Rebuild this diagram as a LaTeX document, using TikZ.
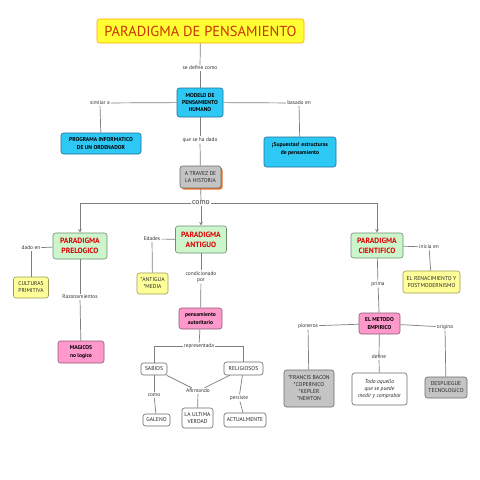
\documentclass[tikz,border=0pt]{standalone}
\usepackage{fontspec}
\setmainfont{PT Sans}
\usepackage{tikz}
\usetikzlibrary{positioning}
\usetikzlibrary{shadows}
\definecolor{linegray}{HTML}{7F7F7F}
\definecolor{lbltext}{HTML}{333333}
\definecolor{titlefill}{HTML}{FFFF33}
\definecolor{titledraw}{HTML}{FFA500}
\definecolor{titletext}{HTML}{CC3300}
\definecolor{bluefill}{HTML}{2EC8F5}
\definecolor{bluedraw}{HTML}{1F6F99}
\definecolor{greenfill}{HTML}{CCF5CC}
\definecolor{greendraw}{HTML}{6E8F6E}
\definecolor{greentext}{HTML}{DD0000}
\definecolor{yellowfill}{HTML}{FFFF99}
\definecolor{yellowdraw}{HTML}{9A9A50}
\definecolor{pinkfill}{HTML}{FF99CC}
\definecolor{pinkdraw}{HTML}{8A5A74}
\definecolor{grayfill}{HTML}{C4C4C4}
\definecolor{graydraw}{HTML}{6A6A6A}
\definecolor{travezshadow}{HTML}{F07020}
\tikzset{%
  link/.style = {draw=linegray,line width=0.7pt},
  linkarrow/.style = {-stealth,draw=linegray,line width=0.7pt},
  lbl/.style = {inner sep=1pt,align=center,text=lbltext,
        font=\fontsize{5.4}{6.6}\selectfont},
  b/.style = {rectangle,rounded corners=2.5pt,draw,line width=0.6pt,
        inner sep=1pt,align=center,font=\fontsize{5.6}{7}\selectfont},
  bb/.style = {b,font=\fontsize{5.6}{7.3}\bfseries\selectfont},
  titlebox/.style = {b,fill=titlefill,draw=titledraw,text=titletext,
        font=\fontsize{14.5}{16}\selectfont},
  bluebox/.style = {bb,fill=bluefill,draw=bluedraw,text=black},
  greenbox/.style = {b,fill=greenfill,draw=greendraw,text=greentext,
        font=\fontsize{7.6}{9.8}\bfseries\selectfont},
  yellowbox/.style = {b,fill=yellowfill,draw=yellowdraw,text=black!85},
  pinkbox/.style = {bb,fill=pinkfill,draw=pinkdraw,text=black},
  graybox/.style = {b,fill=grayfill,draw=graydraw,text=black!85},
  whitebox/.style = {b,fill=white,draw=graydraw,text=black!85}
}
\begin{document}
\begin{tikzpicture}[x=1pt,y=-1pt]
                            \useasboundingbox[fill=white] (0,0) rectangle (480,480);
                            \node[titlebox, minimum width=207pt, minimum height=24pt] (titulo) at (200.5,31) {PARADIGMA DE PENSAMIENTO};
                            \node[lbl] (sedef) at (200,68) {se define como};
                            \node[bluebox, minimum width=46pt, minimum height=29pt] (modelo) at (200,102.5) {MODELO DE\\PENSAMIENTO\\HUMANO};
                            \node[lbl] (similar) at (100,103) {similar a};
                            \node[bluebox, minimum width=80pt, minimum height=21pt] (programa) at (101,143.5) {PROGRAMA INFORMATICO\\DE UN ORDENADOR};
                            \node[lbl] (basado) at (299,103) {basado en};
                            \node[bluebox, minimum width=72pt, minimum height=30pt] (supuestas) at (300,152) {¡Supuestas! estructuras\\de pensamiento\\\mbox{}};
                            \node[lbl] (quese) at (200,140) {que se ha dado};
                            \node[graybox, drop shadow={fill=travezshadow,opacity=1,shadow xshift=1.5pt,shadow yshift=-1.5pt}, minimum width=41pt, minimum height=22pt] (travez) at (200.5,177) {A TRAVEZ DE\\LA HISTORIA};
                            \node[lbl, font=\fontsize{7.6}{9}\selectfont] (como) at (201,203) {como};

                            \node[greenbox, minimum width=54pt, minimum height=26pt] (prelog) at (80,246) {PARADIGMA\\PRELOGICO};
                            \node[lbl] (dado) at (31,248) {dado en};
                            \node[yellowbox, minimum width=35pt, minimum height=21pt] (culturas) at (31,287.5) {CULTURAS\\PRIMITIVA};
                            \node[lbl] (razon) at (80,297) {Razonamientos};
                            \node[pinkbox, minimum width=46pt, minimum height=22pt] (magicos) at (81,352) {MAGICOS\\no logico};

                            \node[greenbox, minimum width=51pt, minimum height=27pt] (antiguo) at (201,239.5) {PARADIGMA\\ANTIGUO};
                            \node[lbl] (edades) at (152,239) {Edades};
                            \node[yellowbox, minimum width=31pt, minimum height=21pt] (antigua) at (152.5,283.5) {*ANTIGUA\\*MEDIA};
                            \node[lbl] (cond) at (201,277) {condicionado\\por};
                            \node[pinkbox, minimum width=43pt, minimum height=21pt] (autor) at (200.5,318.5) {pensamiento\\autoritario};
                            \node[lbl] (repr) at (199,346) {representada};
                            \node[whitebox, minimum width=26pt, minimum height=12pt] (sabios) at (154,369) {SABIOS};
                            \node[whitebox, minimum width=39pt, minimum height=13pt] (relig) at (243.5,368.5) {RELIGIOSOS};
                            \node[lbl] (afirm) at (198,391) {Afirmando};
                            \node[lbl] (como2) [below=17pt of sabios] {como};
                            \node[whitebox, minimum width=27pt, minimum height=12pt] (galeno) at (156.5,420) {GALENO};
                            \node[whitebox, minimum width=31pt, minimum height=20pt] (verdad) at (197.5,418) {LA ULTIMA\\VERDAD};
                            \node[lbl] (persiste) at (239,398) {persiste};
                            \node[whitebox, minimum width=42pt, minimum height=14pt] (actual) at (245,420) {ACTUALMENTE};

                            \node[greenbox, minimum width=52pt, minimum height=25pt] (cient) at (377,245.5) {PARADIGMA\\CIENTIFICO};
                            \node[lbl] (inicia) at (429,247) {inicia en};
                            \node[yellowbox, minimum width=57pt, minimum height=22pt] (renac) at (431.5,282) {EL RENACIMIENTO Y\\POSTMODERNISMO};
                            \node[lbl] (prima) at (378,284) {prima};
                            \node[pinkbox, minimum width=41pt, minimum height=21pt] (metodo) at (379.5,323.5) {EL METODO\\EMPIRICO};
                            \node[lbl] (pioneros) at (308,326) {pioneros};
                            \node[lbl] (origina) at (445,327) {origina};
                            \node[lbl] (define) at (379,357) {define};
                            \node[graybox, minimum width=50pt, minimum height=37pt] (francis) at (309,388.5) {*FRANCIS BACON\\*COPERNICO\\*KEPLER\\*NEWTON};
                            \node[whitebox, minimum width=55pt, minimum height=32pt, font=\fontsize{5.6}{7.3}\itshape\selectfont] (todo) at (379.5,389) {Todo aquello\\que se puede\\medir y comprobar};
                            \node[graybox, minimum width=42pt, minimum height=21pt] (despl) at (446,387.5) {DESPLIEGUE\\TECNOLOGICO};

                            \path[link] (titulo) edge (sedef)
                                    (sedef) edge (modelo)
                                    (modelo) edge (similar)
                                    (similar) edge (programa)
                                    (modelo) edge (basado)
                                    (basado) edge (supuestas)
                                    (modelo) edge (quese)
                                    (quese) edge (travez)
                                    (travez) edge (como)
                                    (prelog) edge (dado)
                                    (dado) edge (culturas)
                                    (prelog) edge (razon)
                                    (razon) edge (magicos)
                                    (antiguo) edge (edades)
                                    (edades) edge (antigua)
                                    (antiguo) edge (cond)
                                    (cond) edge (autor)
                                    (autor) edge (repr)
                                    (sabios) edge (afirm)
                                    (relig) edge (afirm)
                                    (afirm) edge (verdad)
                                    (sabios) edge (como2)
                                    (como2) edge (galeno)
                                    (relig) edge (persiste)
                                    (persiste) edge (actual)
                                    (cient) edge (inicia)
                                    (inicia) edge (renac)
                                    (cient) edge (prima)
                                    (prima) edge (metodo)
                                    (metodo) edge (pioneros)
                                    (pioneros) edge (francis)
                                    (metodo) edge (origina)
                                    (origina) edge (despl)
                                    (metodo) edge (define)
                                    (define) edge (todo);
                            \draw[link] (repr) -| (sabios);
                            \draw[link] (repr) -| (relig);
                            \draw[linkarrow] (como) -| (prelog);
                            \draw[linkarrow] (como) -- (antiguo);
                            \draw[linkarrow] (como) -| (cient);
                        \end{tikzpicture}
\end{document}
